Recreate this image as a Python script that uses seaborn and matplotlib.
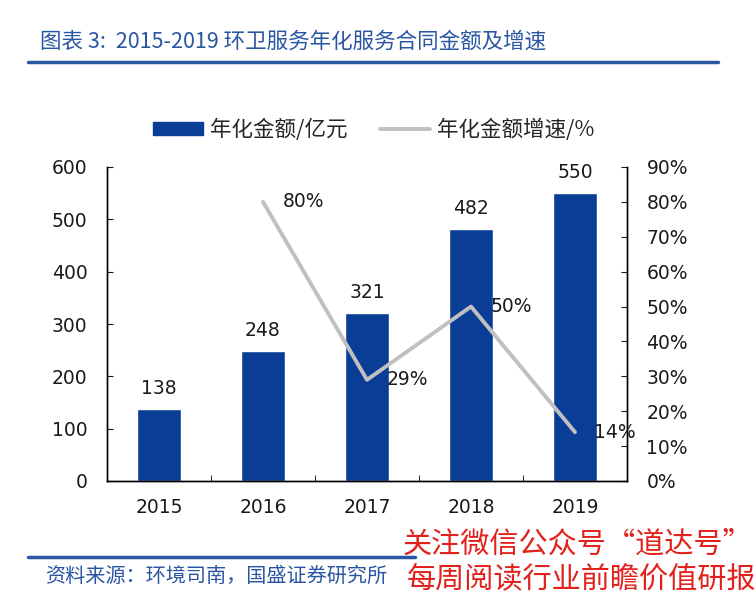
import matplotlib
matplotlib.use('Agg')
import pandas as pd
import seaborn as sns
from matplotlib import pyplot as plt
from matplotlib.lines import Line2D
from matplotlib.patches import Patch
from matplotlib.ticker import FuncFormatter, FixedLocator

years = ['2015', '2016', '2017', '2018', '2019']
amount = [138, 248, 321, 482, 550]
growth_years = ['2016', '2017', '2018', '2019']
growth = [0.80, 0.29, 0.50, 0.14]

title = '图表 3:  2015-2019 环卫服务年化服务合同金额及增速'
source = '资料来源：环境司南，国盛证券研究所'
bar_name = '年化金额/亿元'
line_name = '年化金额增速/%'
mark1 = '关注微信公众号“道达号”'
mark2 = '每周阅读行业前瞻价值研报'

BLUE = '#0A3D96'
GREY = '#C0C0C0'
TEXT_BLUE = '#2A55A3'
DARK = '#1a1a1a'

sns.set_style('ticks')
plt.rcParams['font.family'] = ['DejaVu Sans', 'Noto Sans CJK SC']
CJK = ['Noto Sans CJK SC', 'DejaVu Sans']

bar_df = pd.DataFrame({'year': years, 'amount': amount})
line_df = pd.DataFrame({'x': [years.index(y) for y in growth_years], 'growth': growth})

fig = plt.figure(figsize=(7.56, 6.04), dpi=100)
W, H = 756, 604
ax = fig.add_axes([107 / W, 1 - 481 / H, (627 - 107) / W, (481 - 167) / H])

sns.barplot(data=bar_df, x='year', y='amount', color=BLUE, width=0.42, saturation=1, ax=ax)
ax.set_ylim(0, 600)
ax.set_xlim(-0.5, len(years) - 0.5)
ax.set_xlabel('')
ax.set_ylabel('')
for i, v in enumerate(amount):
    ax.annotate(str(v), (i, v), xytext=(0, 8), textcoords='offset points',
                ha='center', va='bottom', fontsize=13.5, color=DARK)

ax2 = ax.twinx()
sns.lineplot(data=line_df, x='x', y='growth', color=GREY, linewidth=2.8, ax=ax2)
ax2.set_ylim(0, 0.9)
ax2.set_xlim(-0.5, len(years) - 0.5)
ax2.set_ylabel('')
ax2.set_xlabel('')
ax2.yaxis.set_major_formatter(FuncFormatter(lambda v, p: f'{v * 100:.0f}%'))
ax2.set_yticks([i / 10 for i in range(10)])
for x, g in zip(line_df['x'], growth):
    ax2.annotate(f'{g * 100:.0f}%', (x, g), xytext=(14, 0), textcoords='offset points',
                 ha='left', va='center', fontsize=13.5, color=DARK)

for a in (ax, ax2):
    for s in a.spines.values():
        s.set_linewidth(1.0)
        s.set_color('black')
    a.spines['top'].set_visible(False)
ax.tick_params(axis='y', direction='in', length=4, labelsize=13.5, pad=14, colors=DARK)
ax2.tick_params(axis='y', direction='in', length=4, labelsize=13.5, pad=14, colors=DARK)
ax.tick_params(axis='x', which='major', length=0, labelsize=13.5, pad=12, colors=DARK)
ax.xaxis.set_minor_locator(FixedLocator([i + 0.5 for i in range(len(years) - 1)]))
ax.tick_params(axis='x', which='minor', direction='in', length=4, color='black')
ax2.tick_params(axis='x', which='both', length=0)

handles = [Patch(facecolor=BLUE, edgecolor=BLUE),
           Line2D([0], [0], color=GREY, linewidth=2.8)]
fig.legend(handles, [bar_name, line_name], loc='center', bbox_to_anchor=(374 / W, 1 - 130 / H),
           ncol=2, frameon=False, prop={'family': CJK, 'size': 15.5}, handlelength=2.3,
           handleheight=0.6, columnspacing=1.5, handletextpad=0.35)

# header and footer
fig.text(40 / W, 1 - 42 / H, title, fontsize=15.5, color=TEXT_BLUE, style='italic',
         family=CJK, ha='left', va='center')
fig.add_artist(Line2D([28 / W, 718 / W], [1 - 62 / H, 1 - 62 / H], color=TEXT_BLUE, linewidth=2.5))
fig.add_artist(Line2D([28 / W, 415 / W], [1 - 557 / H, 1 - 557 / H], color=TEXT_BLUE, linewidth=2.5))
fig.text(45 / W, 1 - 576 / H, source, fontsize=14.5, color=TEXT_BLUE, style='italic',
         family=CJK, ha='left', va='center')

fig.text(752 / W, 1 - 545 / H, mark1, fontsize=21, color='#E3211C', family=CJK,
         ha='right', va='center')
fig.text(756 / W, 1 - 579 / H, mark2, fontsize=21, color='#E3211C', family=CJK,
         ha='right', va='center')

fig.savefig('out.png', dpi=100)
